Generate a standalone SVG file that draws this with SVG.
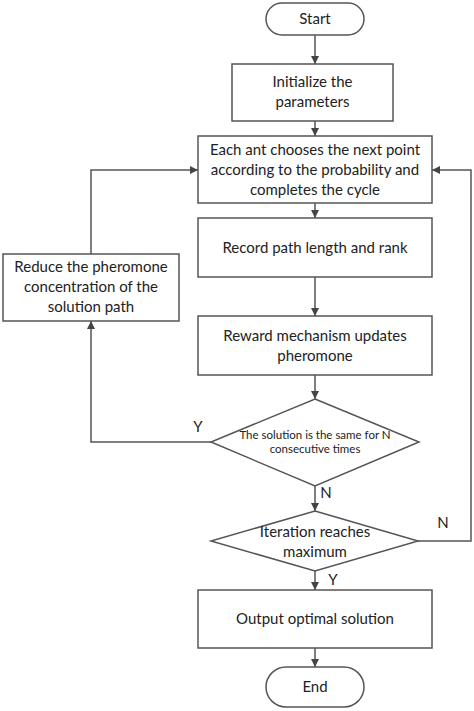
<svg xmlns="http://www.w3.org/2000/svg" width="474" height="711" viewBox="0 0 474 711">
<defs>
<marker id="ah" viewBox="0 0 10 10" refX="10" refY="5" markerWidth="8" markerHeight="8" markerUnits="userSpaceOnUse" orient="auto">
<path d="M0,0 L10,5 L0,10 z" fill="#444"/>
</marker>
<style>
.n{fill:#fff;stroke:#555;stroke-width:1.5}
.t{font-family:Lato,"Open Sans",sans-serif;font-size:15px;fill:#222;text-anchor:middle}
.s{font-family:Lato,"Open Sans",sans-serif;font-size:11.5px;fill:#222;text-anchor:middle}
.c{fill:none;stroke:#555;stroke-width:1.5;marker-end:url(#ah)}
.l{fill:none;stroke:#555;stroke-width:1.5}
</style>
</defs>
<rect width="474" height="711" fill="#fff"/>
<g id="connectors">
<path class="c" d="M315,35 V64"/>
<path class="c" d="M315,121 V136"/>
<path class="c" d="M315,203 V218"/>
<path class="c" d="M315,277 V316"/>
<path class="c" d="M315,375 V399"/>
<path class="c" d="M315,486 V511"/>
<path class="c" d="M315,571 V590"/>
<path class="c" d="M315,648 V667"/>
<path class="c" d="M211,442 H91 V321"/>
<path class="c" d="M91,254 V170 H198"/>
<path class="c" d="M418,541 H471 V170 H432"/>
<text class="t" x="198" y="432">Y</text>
<text class="t" x="326" y="498">N</text>
<text class="t" x="443" y="528">N</text>
<text class="t" x="333" y="585">Y</text>
</g>
<g id="start">
<rect class="n" x="266" y="3" width="98" height="32" rx="16"/>
<text class="t" x="315" y="24">Start</text>
</g>
<g id="init">
<rect class="n" x="232" y="64" width="161" height="57"/>
<text class="t" x="312.5" y="87">Initialize the</text>
<text class="t" x="312.5" y="107">parameters</text>
</g>
<g id="choose">
<rect class="n" x="198" y="136" width="234" height="67"/>
<text class="t" x="315" y="155">Each ant chooses the next point</text>
<text class="t" x="315" y="175">according to the probability and</text>
<text class="t" x="315" y="195">completes the cycle</text>
</g>
<g id="record">
<rect class="n" x="198" y="218" width="234" height="59"/>
<text class="t" x="315" y="253">Record path length and rank</text>
</g>
<g id="reduce">
<rect class="n" x="3" y="254" width="176" height="67"/>
<text class="t" x="91" y="272">Reduce the pheromone</text>
<text class="t" x="91" y="292">concentration of the</text>
<text class="t" x="91" y="312">solution path</text>
</g>
<g id="reward">
<rect class="n" x="198" y="316" width="234" height="59"/>
<text class="t" x="315" y="341">Reward mechanism updates</text>
<text class="t" x="315" y="361">pheromone</text>
</g>
<g id="same">
<path class="n" d="M315,399 L419,442 L315,486 L211,442 z"/>
<text class="s" x="315" y="439">The solution is the same for N</text>
<text class="s" x="315" y="453">consecutive times</text>
</g>
<g id="iter">
<path class="n" d="M315,511 L418,541 L315,571 L211,541 z"/>
<text class="t" x="315" y="537">Iteration reaches</text>
<text class="t" x="315" y="557">maximum</text>
</g>
<g id="output">
<rect class="n" x="198" y="590" width="234" height="58"/>
<text class="t" x="315" y="624">Output optimal solution</text>
</g>
<g id="end">
<rect class="n" x="266" y="667" width="98" height="40" rx="20"/>
<text class="t" x="315" y="692">End</text>
</g>
</svg>
